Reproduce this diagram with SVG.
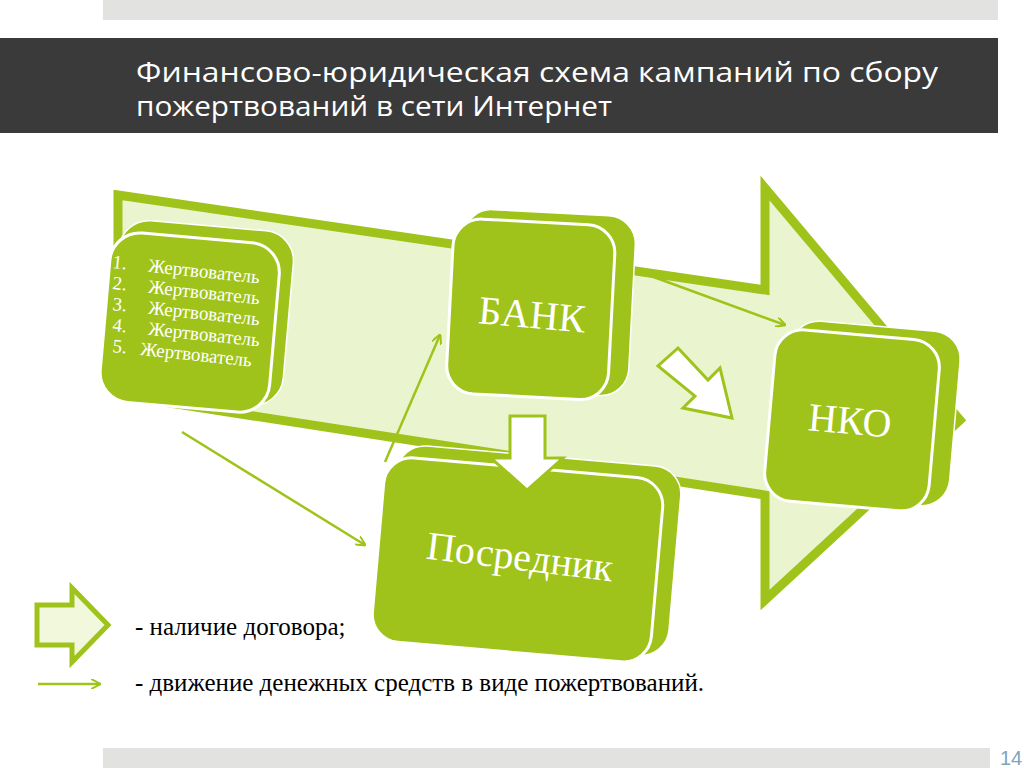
<svg xmlns="http://www.w3.org/2000/svg" width="1024" height="768" viewBox="0 0 1024 768">
<style>
.box{fill:#9fc31a;stroke:#fff;stroke-width:3}
.side{fill:#9fc31a;stroke:#fff;stroke-width:1.5}
.bt{fill:#fff;font-family:"Liberation Serif",serif}
.flow{stroke:#9fc31a;stroke-width:2.5;fill:none;marker-end:url(#ah)}
.hollow{fill:#fff;stroke:#9fc31a;stroke-width:3;stroke-linejoin:miter}
.leg{font-family:"Liberation Serif",serif;font-size:25px;fill:#000}
</style>
<defs>
<marker id="ah" markerWidth="10" markerHeight="10" refX="9" refY="5" orient="auto" markerUnits="userSpaceOnUse"><path d="M0,0 L10,5 L0,10" fill="none" stroke="#9fc31a" stroke-width="2"/></marker>
</defs>
<rect width="1024" height="768" fill="#fff"/>
<rect x="103" y="0" width="895" height="20" fill="#e2e3e0"/>
<rect x="0" y="38" width="998" height="95" fill="#3a3a3a"/>
<text x="136" y="82" font-family="Open Sans,sans-serif" font-size="27" fill="#fff" textLength="802" lengthAdjust="spacingAndGlyphs">Финансово-юридическая схема кампаний по сбору</text>
<text x="136" y="116" font-family="Open Sans,sans-serif" font-size="27" fill="#fff" textLength="476" lengthAdjust="spacingAndGlyphs">пожертвований в сети Интернет</text>
<rect x="103" y="748" width="887" height="20" fill="#e2e3e0"/>
<text x="1000" y="765" font-family="Liberation Sans,sans-serif" font-size="20" fill="#7fa3c0">14</text>
<g id="bigarrow">
<polygon points="118,195 765,290 765,188 960,420 765,600 765,495 118,395" fill="#eaf5cf" stroke="#9fc31a" stroke-width="9" stroke-linejoin="miter"/>
</g>
<g id="donors">
<g transform="rotate(5 195 320)">
<rect x="113" y="225" width="175" height="175" rx="30" class="side"/>
<rect x="105" y="238" width="170" height="170" rx="30" class="box"/>
</g>
<g class="bt" font-size="19">
<text x="112" y="268" transform="rotate(6 112 268)">1.<tspan x="148">Жертвователь</tspan></text>
<text x="112" y="289" transform="rotate(6 112 289)">2.<tspan x="148">Жертвователь</tspan></text>
<text x="112" y="310" transform="rotate(6 112 310)">3.<tspan x="148">Жертвователь</tspan></text>
<text x="112" y="331" transform="rotate(6 112 331)">4.<tspan x="148">Жертвователь</tspan></text>
<text x="112" y="352" transform="rotate(6 112 352)">5.<tspan x="140">Жертвователь</tspan></text>
</g>
</g>
<g id="bank">
<g transform="rotate(3 535 305)">
<rect x="460" y="212" width="172" height="180" rx="28" class="side"/>
<rect x="450" y="222" width="162" height="175" rx="28" class="box"/>
</g>
<text x="532" y="328" class="bt" font-size="40" text-anchor="middle" transform="rotate(5 532 315)">БАНК</text>
</g>
<g id="nko">
<g transform="rotate(5 860 415)">
<rect x="785" y="325" width="170" height="175" rx="28" class="side"/>
<rect x="770" y="335" width="165" height="172" rx="28" class="box"/>
</g>
<text x="850" y="434" class="bt" font-size="40" text-anchor="middle" transform="rotate(5 850 420)">НКО</text>
</g>
<g id="posrednik">
<g transform="rotate(5 525 555)">
<rect x="390" y="455" width="285" height="190" rx="28" class="side"/>
<rect x="378" y="468" width="280" height="185" rx="28" class="box"/>
</g>
<text x="520" y="570" class="bt" font-size="40" text-anchor="middle" transform="rotate(7 520 555)">Посредник</text>
</g>
<g id="connectors">
<line x1="182" y1="432" x2="365" y2="545" class="flow"/>
<line x1="385" y1="462" x2="440" y2="335" class="flow"/>
<line x1="640" y1="272" x2="785" y2="325" class="flow"/>
<polygon class="hollow" points="510,416 545,416 545,458 563,458 527,490 491,458 510,458"/>
<polygon class="hollow" points="678,348 708,380 720,368 732,418 683,408 695,396 658,366"/>
</g>
<g id="legend">
<polygon points="37,605 72,605 72,588 108,625 72,662 72,645 37,645" fill="#f2f8dc" stroke="#9fc31a" stroke-width="5"/>
<text x="135" y="635" class="leg">- наличие договора;</text>
<line x1="38" y1="684" x2="100" y2="684" class="flow"/>
<text x="135" y="691" class="leg">- движение денежных средств в виде пожертвований.</text>
</g>
</svg>
